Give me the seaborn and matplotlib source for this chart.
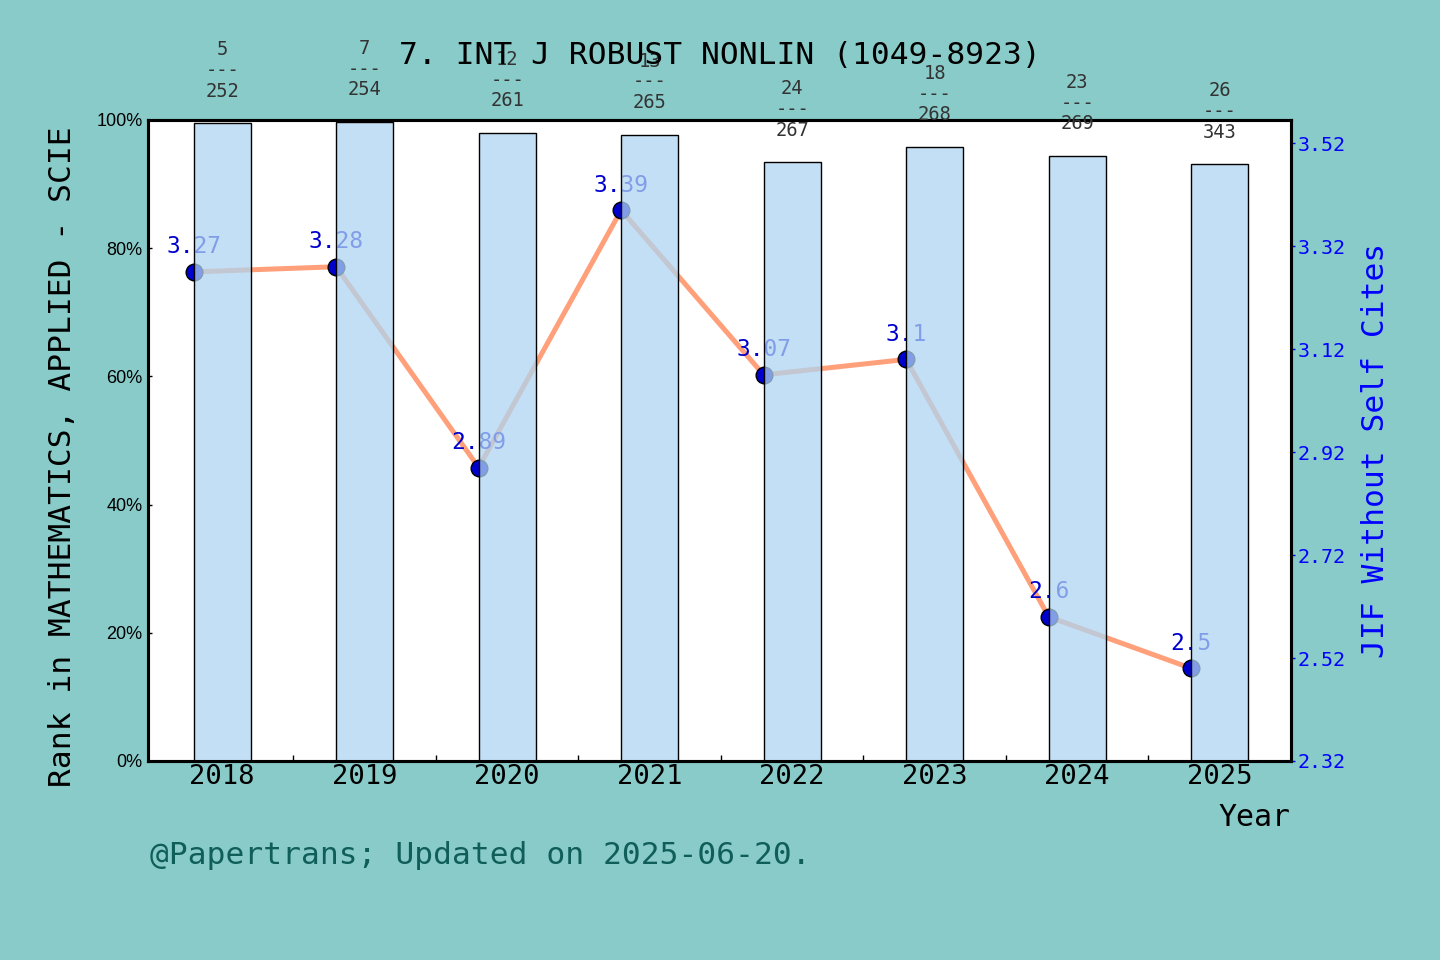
import numpy as np
import pandas as pd
import matplotlib
matplotlib.use('Agg')
import matplotlib.pyplot as plt
import seaborn as sns
from matplotlib.ticker import FixedLocator, PercentFormatter, FormatStrFormatter

# --- data ---
years = ['2018', '2019', '2020', '2021', '2022', '2023', '2024', '2025']
rank_pct = [0.995, 0.997, 0.980, 0.977, 0.934, 0.958, 0.944, 0.931]
ranks = [5, 7, 12, 13, 24, 18, 23, 26]
totals = [252, 254, 261, 265, 267, 268, 269, 343]
jif = [3.27, 3.28, 2.89, 3.39, 3.07, 3.1, 2.6, 2.5]
jif_ticks = [2.32, 2.52, 2.72, 2.92, 3.12, 3.32, 3.52]
pct_ticks = [0.0, 0.2, 0.4, 0.6, 0.8, 1.0]

title = '7. INT J ROBUST NONLIN (1049-8923)'
left_label = 'Rank in MATHEMATICS, APPLIED - SCIE'
right_label = 'JIF Without Self Cites'
footer = '@Papertrans; Updated on 2025-06-20.'

BG = '#88cbc9'
BAR = (175 / 255, 213 / 255, 242 / 255, 0.74)
LINE = '#ffa07a'
MONO = 'DejaVu Sans Mono'

plt.rcParams['font.family'] = [MONO, 'DejaVu Sans']

df = pd.DataFrame({'year': years, 'pct': rank_pct, 'jif': jif})
df['pos'] = np.arange(len(df)) - 0.2

fig = plt.figure(figsize=(14.4, 9.6), dpi=100, facecolor=BG)
ax = fig.add_axes([0.1028, 0.2073, 0.7937, 0.6677])
ax2 = ax.twinx()
# bars sit on top of the line (semi transparent)
ax.set_zorder(2)
ax2.set_zorder(1)
ax.patch.set_visible(False)
ax2.patch.set_visible(True)
ax2.patch.set_facecolor('white')

# --- bars: rank percentile ---
sns.barplot(data=df, x='year', y='pct', ax=ax, width=0.4, color=BAR[:3],
            saturation=1, edgecolor='black', linewidth=1)
for p in ax.patches:
    p.set_facecolor(BAR)

for i, (h, r, t) in enumerate(zip(rank_pct, ranks, totals)):
    ax.annotate(f'{r}\n---\n{t}', (i, h), xytext=(0, 38), textcoords='offset points',
                ha='center', va='center', fontsize=13.5, color='#333333',
                family=MONO, linespacing=1.12, annotation_clip=False)

# --- line: JIF without self cites ---
sns.lineplot(data=df, x='pos', y='jif', ax=ax2, color=LINE, linewidth=3.6,
             marker='o', markersize=12, markerfacecolor='mediumblue',
             markeredgecolor='black', markeredgewidth=1)
for x, v in zip(df['pos'], jif):
    ax2.annotate(f'{v:g}', (x, v), xytext=(0, 18), textcoords='offset points',
                 ha='center', va='center', fontsize=16.5, color='mediumblue', family=MONO)

# --- axes styling ---
ax.set_xlim(-0.52, 7.5)
ax.set_ylim(0, 1)
ax2.set_ylim(2.32, 3.565)
ax.set_xlabel('')
ax.set_ylabel('')
ax2.set_ylabel('')

ax.yaxis.set_major_locator(FixedLocator(pct_ticks))
ax.yaxis.set_major_formatter(PercentFormatter(1.0, decimals=0))
ax.tick_params(axis='y', direction='in', length=3, width=1, labelsize=13,
               pad=4, labelfontfamily='Liberation Sans')
ax.tick_params(axis='x', which='major', length=0, labelsize=19.5, pad=2)
ax.set_xticks([i + 0.5 for i in range(len(years) - 1)], minor=True)
ax.tick_params(axis='x', which='minor', direction='in', length=4, width=1)

ax2.yaxis.set_major_locator(FixedLocator(jif_ticks))
ax2.yaxis.set_major_formatter(FormatStrFormatter('%.2f'))
ax2.tick_params(axis='y', colors='blue', direction='out', length=3, width=1,
                labelsize=14.4, pad=1.5)

for a in (ax, ax2):
    for s in a.spines.values():
        s.set_linewidth(2.2)
        s.set_color('black')

# --- figure texts ---
fig.text(0.5, 1 - 56 / 960, title, ha='center', va='center', fontsize=22.5)
fig.text(63 / 1440, 1 - 457 / 960, left_label, rotation=90, ha='center', va='center',
         fontsize=22.5)
fig.text(1375 / 1440, 1 - 450 / 960, right_label, rotation=90, ha='center', va='center',
         fontsize=22.5, color='blue')
fig.text(1290 / 1440, 1 - 817 / 960, 'Year', ha='right', va='center', fontsize=21.5)
fig.text(150 / 1440, 1 - 855 / 960, footer, ha='left', va='center', fontsize=22.5,
         color='#0f5e5a')

fig.savefig('out.png', dpi=100, facecolor=BG)
